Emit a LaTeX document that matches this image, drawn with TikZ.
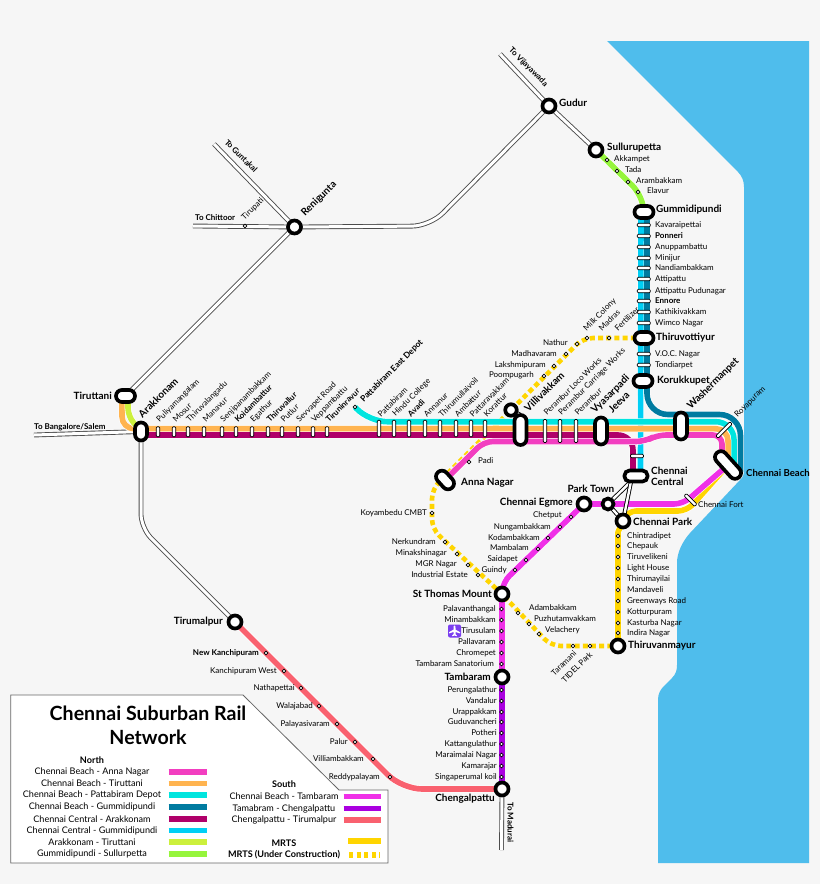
\documentclass[tikz,border=0pt]{standalone}
\usepackage{fontspec}
\setmainfont{Lato}
\pgfdeclarelayer{sealayer}
\pgfdeclarelayer{lineslayer}
\pgfdeclarelayer{linkslayer}
\pgfsetlayers{sealayer,lineslayer,linkslayer,main}
\definecolor{bgc}{HTML}{F6F6F6}
\definecolor{seac}{HTML}{4FBDEC}
\definecolor{cPink}{HTML}{F23EC0}
\definecolor{cOrange}{HTML}{FFB450}
\definecolor{cCyan}{HTML}{00E5DF}
\definecolor{cTeal}{HTML}{007BA0}
\definecolor{cDark}{HTML}{B0006A}
\definecolor{cBlue}{HTML}{00CFF5}
\definecolor{cLime}{HTML}{CCF03C}
\definecolor{cGreen}{HTML}{96F53C}
\definecolor{cMag}{HTML}{F030E8}
\definecolor{cPurple}{HTML}{AA00E0}
\definecolor{cRed}{HTML}{F9616F}
\definecolor{cYellow}{HTML}{FFD500}
\definecolor{cPlane}{HTML}{7B3FF0}
\newcounter{lblc}
\tikzset{
  stn/.style={circle,draw=black,fill=white,line width=3.7pt,minimum size=13pt,inner sep=0pt,outer sep=0pt},
  pill/.style={rectangle,draw=black,fill=white,line width=3.7pt,inner sep=0pt,outer sep=0pt,rounded corners=6pt},
  dotst/.style={circle,draw=black,fill=white,line width=0.8pt,minimum size=3.8pt,inner sep=0pt,outer sep=0pt},
  lab/.style={font=\fontsize{8}{9}\selectfont,inner sep=0pt,text=black},
  big/.style={font=\fontsize{10}{11.5}\selectfont\bfseries,inner sep=0pt,text=black,align=left},
  sml/.style={font=\fontsize{8}{9}\selectfont\bfseries,inner sep=0pt,text=black},
  rail/.style={line width=5.6pt,line join=round,preaction={draw=white,line width=6.8pt}},
  track/.style={draw=black!70,line width=0.9pt,double=white,double distance=3pt,line join=round},
  link/.style={draw=black,line width=0.9pt,double=white,double distance=2.4pt},
  vtick/.style={rectangle,draw=black,fill=white,line width=0.7pt,minimum width=3.4pt,inner sep=0pt,rounded corners=1pt},
  htick/.style={rectangle,draw=black,fill=white,line width=0.7pt,minimum width=13pt,minimum height=3.4pt,inner sep=0pt,rounded corners=1pt},
  swatch/.style={line width=5.2pt},
  legt/.style={font=\fontsize{9.1}{10}\selectfont,inner sep=0pt,text=black},
  legb/.style={font=\fontsize{9.1}{10}\selectfont\bfseries,inner sep=0pt,text=black},
}
\newcommand{\stnlab}[6]{% x,y,anchor,lx,ly,text
  \stepcounter{lblc}%
  \node[dotst] (d\thelblc) at (#1,#2) {};
  \node[lab,anchor=#3] (dl\thelblc) at (#4,#5) {#6};
}
\newcommand{\freelab}[5]{% style,rotate,anchor,x-y,text
  \stepcounter{lblc}%
  \node[#1,rotate=#2,anchor=#3] (t\thelblc) at #4 {#5};
}
\begin{document}
\begin{tikzpicture}[x=1pt,y=-1pt]
\useasboundingbox (0,0) rectangle (820,884);
\begin{pgfonlayer}{sealayer}
  \fill[bgc] (0,0) rectangle (820,884);
  \fill[seac] (607,41) -- (809,41) -- (809,863) -- (658,863) -- (658,700)
     .. controls (658,694) and (660,690) .. (664,686) -- (672,678)
     .. controls (676,674) and (677,670) .. (677,665) -- (677,563)
     .. controls (677,553) and (682,542) .. (690,533) -- (740,480)
     .. controls (743,477) and (744,475) .. (744,470) -- (744,187)
     .. controls (744,181) and (742,176) .. (738,172) -- cycle;
\end{pgfonlayer}

% ----- stations -----
\node[stn] (Gudur) at (549,106) {};
\node[stn] (Sullurupetta) at (596,150) {};
\node[stn] (Renigunta) at (294.5,227) {};
\node[pill,minimum width=19pt,minimum height=12pt] (Gummidipundi) at (644,212) {};
\node[pill,minimum width=19pt,minimum height=12pt] (Thiruvottiyur) at (644,338) {};
\node[pill,minimum width=19pt,minimum height=12pt] (Korukkupet) at (643,381) {};
\node[pill,minimum width=19pt,minimum height=12pt] (Tiruttani) at (125.5,396) {};
\node[pill,minimum width=12pt,minimum height=18pt] (Arakkonam) at (141,431.5) {};
\node[pill,minimum width=12pt,minimum height=30pt] (Villivakkam) at (520.5,430) {};
\node[stn,minimum size=11.5pt] (VillivakkamB) at (511,410) {};
\node[pill,minimum width=12pt,minimum height=27pt] (Vyasarpadi) at (601,431) {};
\node[pill,minimum width=12pt,minimum height=27pt] (Washermanpet) at (681,426) {};
\node[pill,minimum width=12pt,minimum height=33pt,rotate=42] (Beach) at (728,465) {};
\node[pill,minimum width=12pt,minimum height=21pt,rotate=42] (AnnaNagar) at (445,480) {};
\node[pill,minimum width=23pt,minimum height=11pt,rounded corners=5pt] (Central) at (636,476) {};
\node[stn,minimum size=11pt] (ParkTown) at (608,504) {};
\node[stn] (Egmore) at (584,504) {};
\node[stn] (ChPark) at (623,521) {};
\node[stn] (Thiruvanmayur) at (618,646) {};
\node[stn] (StThomas) at (502,594) {};
\node[stn] (Tambaram) at (502,677) {};
\node[stn] (Chengalpattu) at (502,789) {};
\node[stn] (Tirumalpur) at (235,622) {};
\coordinate (ToChittoor) at (193,226);
\coordinate (ToGuntakal) at (214,144);
\coordinate (ToVijayawada) at (500,54);
\coordinate (ToBangalore) at (34,435);
\coordinate (ToMadurai) at (501.5,850);
\node[dotst] (PEDepot) at (355,407) {};

% ----- lines -----
\begin{pgfonlayer}{lineslayer}
  \draw[track] (ToChittoor) -- (Renigunta.center);
  \draw[track] (ToGuntakal) -- (Renigunta.center);
  \draw[track,rounded corners=18pt] (Renigunta.center) -- (430,226) -- (Gudur.center);
  \draw[track] (ToVijayawada) -- (Gudur.center) -- (Sullurupetta.center);
  \draw[track] (Renigunta.center) -- (Tiruttani.center);
  \draw[track] (ToBangalore) -- (Arakkonam.center);
  \draw[track,rounded corners=14pt] (Arakkonam.center) -- (141,528) -- (Tirumalpur.center);
  \draw[track] (Chengalpattu.center) -- (ToMadurai);
  % MRTS under construction
  \draw[cYellow,line width=4.6pt,dash pattern=on 5pt off 3.2pt,rounded corners=10pt]
     (Thiruvottiyur.center) -- (583,338) -- (432,489) -- (432,529) -- (StThomas.center)
     -- (551,646) -- (Thiruvanmayur.center);
  % MRTS
  \draw[rail,cYellow,rounded corners=9pt] (ChPark.center) -- (627,511) -- (687,511) -- (Beach.center);
  \draw[rail,cYellow] (ChPark.center) -- (618,532) -- (Thiruvanmayur.center);
  % teal / blue north line
  \draw[rail,cBlue] ([xshift=-3pt]Gummidipundi.center) -- (640.5,470);
  \draw[rail,cTeal] ([xshift=3pt]Gummidipundi.center) -- ([xshift=4pt]Korukkupet.center);
  \draw[rail,cTeal,rounded corners=21pt] ([xshift=4pt]Korukkupet.center) -- (647,414.5) -- (740.5,414.5) -- (740.5,472);
  % main stack
  \draw[rail,cCyan,rounded corners=18pt] (PEDepot.center) -- (369,421.7) -- (734,421.7) -- (734,468);
  \draw[rail,cOrange,rounded corners=12pt] ([xshift=-3.5pt]Tiruttani.center) -- (122,428.7) -- (728,428.7) -- (728,462);
  \draw[rail,cLime,rounded corners=8pt] ([xshift=2.5pt]Tiruttani.center) -- (128,416) -- (Arakkonam.center);
  \draw[rail,cDark,rounded corners=15pt] (Arakkonam.center) ++(0,3.5) -- (633,435) -- (633,472);
  \draw[rail,cPink,rounded corners=9pt] (AnnaNagar.center) -- (484,441.5) -- (645,441.5) -- (657,435) -- (722,435) -- (722,462);
  % Tambaram line
  \draw[rail,cMag] (StThomas.center) -- (Tambaram.center);
  \draw[rail,cMag,rounded corners=9pt] (StThomas.center) -- (503,582) -- (Egmore.center);
  \draw[rail,cMag,rounded corners=9pt] (Egmore.center) -- (683,504) -- (Beach.center);
  \draw[rail,cPurple] (Tambaram.center) -- (Chengalpattu.center);
  % Tirumalpur line
  \draw[rail,cRed,rounded corners=20pt] (Tirumalpur.center) -- (402,789) -- (Chengalpattu.center);
  % Gummidipundi - Sullurupetta
  \draw[rail,cGreen,rounded corners=12pt] (Sullurupetta.center) -- (641,194) -- (Gummidipundi.center);
\end{pgfonlayer}
\begin{pgfonlayer}{linkslayer}
  \draw[link] (VillivakkamB) -- (Villivakkam.north);
  \draw[link] ([xshift=-5pt]Central.south) -- (ParkTown);
  \draw[link] ([xshift=-5pt]Central.south) -- (ChPark);
  \draw[link] (ParkTown) -- (ChPark);
\end{pgfonlayer}

% ----- ticks with rotated labels -----
\foreach \x/\n in {158/Puliyamangalam,174/Mosur,188/Thiruvalangadu,204/Manavur,222/Senjipanambakkam,236/\textbf{Koidambattur},252/Egathur,268/\textbf{Thiruvallur},282/Putlur,298/Sevvapet Road,313/Veppambattu,327/\textbf{Tiruninravur}}{
  \node[vtick,minimum height=10pt] (vt\x) at (\x,431.7) {};
  \node[lab,rotate=45,anchor=west] (vl\x) at (\x,421) {\n};
}
\foreach \x/\n in {379/Pattabiram,394/Hindu College,409/\textbf{Avadi},425/Annanur,440/Thirumullaivoil,456/Ambattur,471/Pattaravakkam,485/Korattur}{
  \node[vtick,minimum height=16.5pt] (vt\x) at (\x,428.5) {};
  \node[lab,rotate=45,anchor=west] (vl\x) at (\x,415.5) {\n};
}
\foreach \x/\n in {545/Perambur Loco Works,560/Perambur Carriage Works,576/Perambur}{
  \node[vtick,minimum height=23pt] (vt\x) at (\x,431) {};
  \node[lab,rotate=45,anchor=west] (vl\x) at (\x,414) {\n};
}
\foreach \y/\n in {225/Kavaraipettai,236/\textbf{Ponneri},247/Anuppambattu,258/Minijur,268/Nandiambakkam,279/Attipattu,291/Attipattu Pudunagar,301/\textbf{Ennore},312/Kathikivakkam,323/Wimco Nagar,354/V.O.C. Nagar,365/Tondiarpet}{
  \node[htick] (ht\y) at (643.8,\y) {};
  \node[lab,anchor=west] (hl\y) at (655,\y) {\n};
}
\node[htick] (tCentral) at (637,456) {};
\node[htick,rotate=45,minimum width=20pt] (tRoyapuram) at (724,430) {};
\node[htick,rotate=-45,minimum width=15pt] (tFort) at (690.5,500) {};

% ----- dots with labels -----
\node[dotst] (dTirupati) at (245,226) {};
\node[dotst] (dMadras) at (609,338) {};
\node[dotst] (dMilk) at (587,338) {};
\node[dotst] (dTaramani) at (573,646) {};
\node[dotst] (dTidel) at (590,646) {};
\stnlab{469}{462}{west}{478}{461}{Padi}
% Sullurupetta branch
\stnlab{607}{160}{west}{614}{159}{Akkampet}
\stnlab{617}{171}{west}{625}{170}{Tada}
\stnlab{628}{182}{west}{636}{181}{Arambakkam}
\stnlab{638}{192}{west}{647}{191}{Elavur}
% MRTS dashed north
\stnlab{577}{344}{east}{568}{343}{Nathur}
\stnlab{566}{354}{east}{557}{354}{Madhavaram}
\stnlab{554}{366}{east}{546}{365}{Lakshmipuram}
\stnlab{544}{376}{east}{534}{375}{Poompugarh}
% MRTS dashed west
\stnlab{432}{513}{east}{427}{513}{Koyambedu CMBT}
\stnlab{445}{542}{east}{436}{542}{Nerkundram}
\stnlab{457}{554}{east}{447}{553}{Minakshinagar}
\stnlab{468}{565}{east}{457}{564}{MGR Nagar}
\stnlab{478}{575}{east}{468}{575}{Industrial Estate}
\stnlab{518}{613}{west}{529}{608}{Adambakkam}
\stnlab{529}{624}{west}{534}{619}{Puzhutamvakkam}
\stnlab{539}{634}{west}{545}{630}{Velachery}
% Egmore line
\stnlab{571}{517}{east}{562}{515}{Chetput}
\stnlab{560}{527}{east}{551}{527}{Nungambakkam}
\stnlab{548}{538}{east}{540}{538}{Kodambakkam}
\stnlab{538}{549}{east}{529}{548}{Mambalam}
\stnlab{526}{560}{east}{518}{559}{Saidapet}
\stnlab{515}{570}{east}{507}{570}{Guindy}
% Tambaram
\foreach \y/\n in {609/Palavanthangal,620/Minambakkam,631/Tirusulam,642/Pallavaram,653/Chromepet}{
  \node[dotst] (dm\y) at (501.5,\y) {};
  \node[lab,anchor=east] (lm\y) at (496,\y) {\n};
}
\node[dotst] (dm664) at (501.5,664) {};
\node[lab,anchor=east] (lm664) at (494,663.5) {Tambaram Sanatorium};
\foreach \y/\n in {690/Perungalathur,701/Vandalur,712/Urappakkam,722/Guduvancheri,733/Potheri,744/Kattangulathur,755/Maraimalai Nagar,766/Kamarajar,777/Singaperumal koil}{
  \node[dotst] (dp\y) at (501.5,\y) {};
  \node[lab,anchor=east] (lp\y) at (497,\y) {\n};
}
% MRTS
\foreach \y/\n in {536/Chintradipet,546/Chepauk,557/Tiruvelikeni,568/Light House,579/Thirumayilai,590/Mandaveli,601/Greenways Road,612/Kotturpuram,623/Kasturba Nagar,633/Indira Nagar}{
  \node[dotst] (dy\y) at (618,\y) {};
  \node[lab,anchor=west] (ly\y) at (627,\y) {\n};
}
% Tirumalpur line
\stnlab{266}{653}{east}{259}{653}{\textbf{New Kanchipuram}}
\stnlab{284}{671}{east}{277}{671}{Kanchipuram West}
\stnlab{301}{688}{east}{295}{688}{Nathapettai}
\stnlab{319}{706}{east}{313}{706}{Walajabad}
\stnlab{337}{724}{east}{330}{724}{Palayasivaram}
\stnlab{355}{742}{east}{348}{742}{Palur}
\stnlab{373}{759}{east}{364}{759}{Villiambakkam}
\stnlab{390}{777}{east}{380}{777}{Reddypalayam}

% ----- plain labels -----
\node[big,anchor=west] (lGudur) at (559,103) {Gudur};
\node[big,anchor=west] (lSull) at (607,148) {Sullurupetta};
\node[big,anchor=west] (lGummi) at (656,210) {Gummidipundi};
\node[big,anchor=west] (lThiru) at (656,338) {Thiruvottiyur};
\node[big,anchor=west] (lKoru) at (657,381) {Korukkupet};
\node[big,anchor=east] (lTiruttani) at (112,396) {Tiruttani};
\node[big,anchor=east] (lTirum) at (223,622) {Tirumalpur};
\node[big,anchor=west] (lAnna) at (461,483) {Anna Nagar};
\node[big,anchor=west] (lCentral) at (651,476.5) {Chennai\\Central};
\node[big,anchor=east] (lPark) at (614.5,489) {Park Town};
\node[big,anchor=east] (lEgm) at (573,503) {Chennai Egmore};
\node[big,anchor=west] (lChP) at (633,522) {Chennai Park};
\node[big,anchor=west] (lBeach) at (746,473) {\fontsize{9.6}{11}\selectfont Chennai Beach};
\node[big,anchor=east] (lStT) at (492,594) {St Thomas Mount};
\node[big,anchor=east] (lTamb) at (491,677) {Tambaram};
\node[big,anchor=east] (lChg) at (495,799) {Chengalpattu};
\node[big,anchor=west] (lThv) at (628,646) {Thiruvanmayur};
\node[lab,anchor=west] (lFort) at (698,505) {Chennai Fort};
\node[sml,anchor=west] (lBang) at (34,427) {To Bangalore/Salem};
\node[sml,anchor=west] (lChit) at (195,218) {To Chittoor};
% rotated
\freelab{big}{45}{west}{(140,416)}{Arakkonam}
\freelab{big}{45}{west}{(303,215)}{Renigunta}
\freelab{big}{45}{west}{(526,410)}{Villivakkam}
\freelab{big}{45}{west}{(593,412)}{Vyasarpadi}
\freelab{big}{45}{west}{(610,411)}{Jeeva}
\freelab{big}{45}{west}{(689,408)}{Washermanpet}
\freelab{big}{45}{west}{(362,401)}{\fontsize{8.4}{10}\selectfont Pattabiram East Depot}
\freelab{lab}{45}{west}{(736,416)}{Royapuram}
\freelab{lab}{45}{west}{(243,219)}{Tirupati}
\freelab{lab}{45}{west}{(585,330)}{Milk Colony}
\freelab{lab}{45}{west}{(600,330)}{Madras}
\freelab{lab}{45}{west}{(616,330)}{Fertilizer}
\freelab{lab}{45}{east}{(575,652)}{Taramani}
\freelab{lab}{45}{east}{(591,653)}{TIDEL Park}
\freelab{sml}{-45}{west}{(510,49)}{To Vijayawada}
\freelab{sml}{-45}{west}{(226,141)}{To Guntakal}
\freelab{sml}{-90}{west}{(510.5,802)}{To Madurai}

% airplane icon
\fill[cPlane,rounded corners=2pt] (448,624.5) rectangle (461,637.5);
\fill[white] (454.5,625.5) .. controls (455.3,625.5) and (455.5,626.5) .. (455.5,628) -- (455.5,629.6)
  -- (460,632.2) -- (460,633.4) -- (455.5,632) -- (455.5,634.2) -- (456.9,635.4) -- (456.9,636.2)
  -- (454.5,635.6) -- (452.1,636.2) -- (452.1,635.4) -- (453.5,634.2) -- (453.5,632) -- (449,633.4)
  -- (449,632.2) -- (453.5,629.6) -- (453.5,628) .. controls (453.5,626.5) and (453.7,625.5) .. (454.5,625.5) -- cycle;

% ----- legend -----
\draw[fill=white,draw=black!60,line width=0.8pt] (10.7,695) -- (243,695) -- (339,790) -- (388,790) -- (388,863) -- (10.7,863) -- cycle;
\node[font=\fontsize{19.6}{24}\selectfont\bfseries,align=center,inner sep=0pt,text=black] (lTitle) at (148,725) {Chennai Suburban Rail\\Network};
\node[legb] (lNorth) at (92,760) {North};
\foreach \y/\n/\c in {772/Chennai Beach - Anna Nagar/cPink,783.5/Chennai Beach - Tiruttani/cOrange,795/Chennai Beach - Pattabiram Depot/cCyan,807/Chennai Beach - Gummidipundi/cTeal,819/Chennai Central - Arakkonam/cDark,830.5/Chennai Central - Gummidipundi/cBlue,842/Arakkonam - Tiruttani/cLime,854/Gummidipundi - Sullurpetta/cGreen}{
  \node[legt] (ln\y) at (92,\y) {\n};
  \draw[swatch,\c] (168.5,\y) -- (207,\y);
}
\node[legb] (lSouth) at (284,784.5) {South};
\foreach \y/\n/\c in {796.5/Chennai Beach - Tambaram/cMag,808.5/Tamabram - Chengalpattu/cPurple,820/Chengalpattu - Tirumalpur/cRed}{
  \node[legt] (ls\y) at (284,\y) {\n};
  \draw[swatch,\c] (343.5,\y) -- (381,\y);
}
\node[legb] (lMrts) at (284,843) {MRTS};
\draw[swatch,cYellow] (348,841) -- (381,841);
\node[legb] (lMrtsU) at (284,855) {MRTS (Under Construction)};
\draw[swatch,cYellow,dash pattern=on 4pt off 3.6pt] (349,855) -- (380,855);
\end{tikzpicture}
\end{document}
